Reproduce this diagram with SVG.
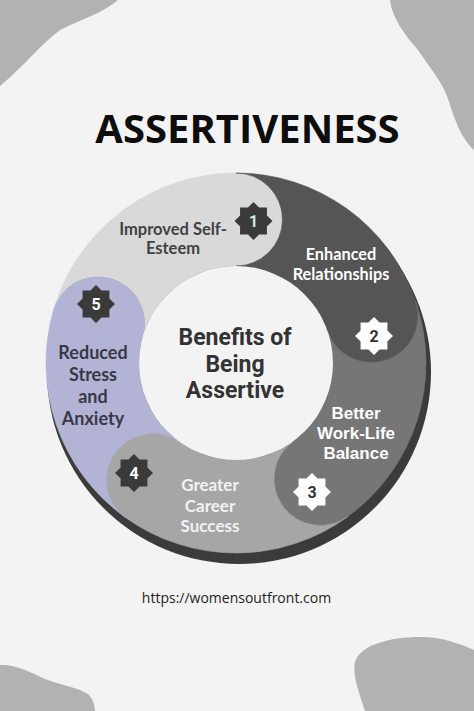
<svg xmlns="http://www.w3.org/2000/svg" width="474" height="711" viewBox="0 0 474 711">
<defs>
<style>
.bg{fill:#f3f3f3}
.blob{fill:#b2b2b2}
.seg{stroke-width:0.6}
.title{font-family:"Open Sans","Liberation Sans",sans-serif;font-weight:700;font-size:40px;fill:#0d0d0d;text-anchor:middle}
.lbl{font-family:Lato,"Liberation Sans",sans-serif;font-weight:700;text-anchor:middle}
.lblw{font-family:"Liberation Sans",Arial,sans-serif;font-weight:700;font-size:17px;fill:#ffffff;text-anchor:middle}
.num{font-family:Roboto,"Liberation Sans",sans-serif;font-weight:700;font-size:16px;text-anchor:middle}
.ctr{font-family:Roboto,"Liberation Sans",sans-serif;font-weight:700;font-size:23px;fill:#333333;text-anchor:middle}
.url{font-family:"Open Sans","Liberation Sans",sans-serif;font-size:14px;fill:#1e1e1e;text-anchor:middle}
</style>
<path id="star" d="M0,-19 L5.55,-13.4 L13.44,-13.44 L13.4,-5.55 L19,0 L13.4,5.55 L13.44,13.44 L5.55,13.4 L0,19 L-5.55,13.4 L-13.44,13.44 L-13.4,5.55 L-19,0 L-13.4,-5.55 L-13.44,-13.44 L-5.55,-13.4 Z"/>
</defs>
<rect class="bg" x="0" y="0" width="474" height="711"/>
<g id="background">
<path class="blob" d="M0,0 H118 C105,12 80,20 60,30 C40,45 20,70 0,86 Z"/>
<path class="blob" d="M390,0 H474 V150 C462,140 455,120 450,105 C445,85 430,68 418,50 C405,35 392,18 390,0 Z"/>
<path class="blob" d="M0,665 C15,664 30,672 45,679 C60,685 80,688 88,694 C93,699 95,705 95,711 H0 Z"/>
<path class="blob" d="M365,711 C360,695 352,675 355,662 C360,645 390,637 420,637 C445,637 462,645 474,650 V711 Z"/>
</g>
<text id="title" class="title" x="247.5" y="143">ASSERTIVENESS</text>
<circle id="shadow" cx="239" cy="372" r="192" fill="#3b3b3b"/>
<g id="node1">
<path class="seg" fill="#d9d9d9" stroke="#d9d9d9" d="M53.36,310.63 A190,190 0 0 1 236,173 A46.5,46.5 0 0 1 236,266 A97,97 0 0 0 142.76,336.26 A46.5,46.5 0 0 0 53.36,310.63 Z"/>
<use href="#star" x="253.5" y="221" fill="#3a3a3a"/>
<text class="num" x="253.5" y="227" fill="#c8eee0" font-weight="500">1</text>
<text class="lbl" font-size="16.5" fill="#424242"><tspan x="173" y="235">Improved Self-</tspan><tspan x="173" y="254">Esteem</tspan></text>
</g>
<g id="node2">
<path class="seg" fill="#555555" stroke="#555555" d="M236,173 A190,190 0 0 1 415.65,301.14 A46.5,46.5 0 0 1 327.72,331.42 A97,97 0 0 0 236,266 A46.5,46.5 0 0 0 236,173 Z"/>
<use href="#star" x="374" y="336" fill="#ffffff"/>
<text class="num" x="374" y="342" fill="#333333">2</text>
<text class="lbl" font-size="16.3" fill="#ffffff"><tspan x="341" y="260">Enhanced</tspan><tspan x="341" y="280">Relationships</tspan></text>
</g>
<g id="node3">
<path class="seg" fill="#767676" stroke="#767676" d="M415.65,301.14 A190,190 0 0 1 347.68,516.71 A46.5,46.5 0 0 1 293.02,441.47 A97,97 0 0 0 327.72,331.42 A46.5,46.5 0 0 0 415.65,301.14 Z"/>
<use href="#star" x="312" y="492" fill="#ffffff"/>
<text class="num" x="312" y="498" fill="#333333">3</text>
<text class="lblw"><tspan x="356" y="419">Better</tspan><tspan x="356" y="439">Work-Life</tspan><tspan x="356" y="459">Balance</tspan></text>
</g>
<g id="node4">
<path class="seg" fill="#a6a6a6" stroke="#a6a6a6" d="M347.68,516.71 A190,190 0 0 1 125.67,517.68 A46.5,46.5 0 0 1 179.67,441.97 A97,97 0 0 0 293.02,441.47 A46.5,46.5 0 0 0 347.68,516.71 Z"/>
<use href="#star" x="134" y="473" fill="#3a3a3a"/>
<text class="num" x="134" y="479" fill="#ffffff">4</text>
<text class="lbl" font-size="17" fill="#f2f2f2"><tspan x="210" y="491">Greater</tspan><tspan x="210" y="511.5">Career</tspan><tspan x="210" y="532">Success</tspan></text>
</g>
<g id="node5">
<path class="seg" fill="#b3b3d5" stroke="#b3b3d5" d="M125.67,517.68 A190,190 0 0 1 53.36,310.63 A46.5,46.5 0 0 1 142.76,336.26 A97,97 0 0 0 179.67,441.97 A46.5,46.5 0 0 0 125.67,517.68 Z"/>
<use href="#star" x="96" y="304" fill="#3a3a3a"/>
<text class="num" x="96" y="310" fill="#ffffff">5</text>
<text class="lbl" font-size="18" fill="#383846"><tspan x="93" y="359">Reduced</tspan><tspan x="93" y="381">Stress</tspan><tspan x="93" y="403">and</tspan><tspan x="93" y="425">Anxiety</tspan></text>
</g>
<g id="center">
<circle cx="236" cy="363" r="97" fill="#f3f3f3"/>
<text class="ctr"><tspan x="235" y="345">Benefits of</tspan><tspan x="235" y="371.5">Being</tspan><tspan x="235" y="398">Assertive</tspan></text>
</g>
<g id="connectors"></g>
<text id="url" class="url" x="236.5" y="603">https://womensoutfront.com</text>
</svg>
